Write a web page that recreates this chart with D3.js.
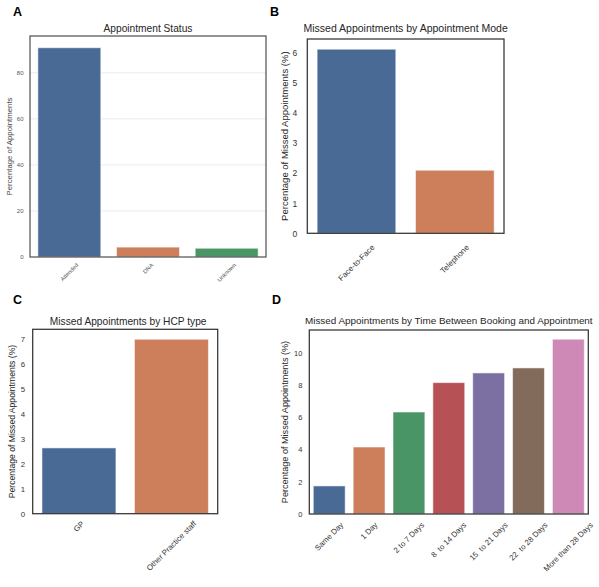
<!DOCTYPE html>
<html>
<head>
<meta charset="utf-8">
<script src="https://cdn.jsdelivr.net/npm/d3@7"></script>
<style>
  body { margin: 0; background: #fff; }
  svg text { font-family: "Liberation Sans", Arial, sans-serif; white-space: pre; }
</style>
</head>
<body>
<script>
// data
const statusCats = ["Attended", "DNA", "Unknown"];
const statusVals = [90.9, 4.3, 3.8];

const modeCats = ["Face-to-Face", "Telephone"];
const modeVals = [6.13, 2.1];

const hcpCats = ["GP", "Other Practice staff"];
const hcpVals = [2.64, 7.0];

const waitCats = ["Same Day", "1 Day", "2 to 7 Days", "8  to 14 Days", "15  to 21 Days", "22  to 28 Days", "More than 28 Days"];
const waitVals = [1.74, 4.15, 6.32, 8.14, 8.74, 9.05, 10.83];

const palette = ["#4a6a96", "#cd7f5c", "#4a9565", "#b65156", "#7b70a1", "#836b5c", "#cf89b7"];

const svg = d3.select("body").append("svg")
  .attr("width", 599)
  .attr("height", 587);

function panel(p) {
  const g = svg.append("g");

  const x = d3.scaleBand()
    .domain(p.cats)
    .range([p.left, p.right])
    .paddingInner(0.2)
    .paddingOuter(0.1);

  const y = d3.scaleLinear()
    .domain([0, p.ymax])
    .range([p.bottom, p.top]);

  if (p.grid) {
    g.selectAll(".grid")
      .data(p.ticks.filter(d => d > 0))
      .enter().append("line")
      .attr("x1", p.left).attr("x2", p.right)
      .attr("y1", d => y(d)).attr("y2", d => y(d))
      .attr("stroke", "#ebebeb")
      .attr("stroke-width", 1);
  }

  g.selectAll(".bar")
    .data(p.vals)
    .enter().append("rect")
    .attr("x", (d, i) => x(p.cats[i]))
    .attr("y", d => y(d))
    .attr("width", x.bandwidth())
    .attr("height", d => y(0) - y(d))
    .attr("fill", (d, i) => palette[i % palette.length])
    .attr("stroke", "rgba(255,255,255,0.55)")
    .attr("stroke-width", 1);

  const ax = g.append("g")
    .attr("transform", "translate(" + p.left + ",0)")
    .style("color", p.tickColor)
    .call(d3.axisLeft(y).tickValues(p.ticks).tickSize(0).tickPadding(p.tickPad).tickFormat(d3.format("d")));
  ax.select(".domain").remove();
  ax.selectAll("text")
    .style("font-size", p.tickFont + "px")
    .style("font-family", "'Liberation Sans', Arial, sans-serif")
    .style("fill", p.tickColor);

  // rotated category labels, centred on the bars like matplotlib rotation=45
  p.cats.forEach(c => {
    const t = g.append("text")
      .attr("text-anchor", "middle")
      .attr("dominant-baseline", "central")
      .style("font-size", p.xFont + "px")
      .style("fill", p.tickColor)
      .text(c);
    const w = t.node().getComputedTextLength();
    const half = (w + p.xFont) / (2 * Math.SQRT2);
    t.attr("transform", "translate(" + (x(c) + x.bandwidth() / 2) + "," + (p.bottom + p.xPad + half) + ") rotate(-45)");
  });

  g.append("rect")
    .attr("x", p.left).attr("y", p.top)
    .attr("width", p.right - p.left)
    .attr("height", p.bottom - p.top)
    .attr("fill", "none")
    .attr("stroke", p.frame)
    .attr("stroke-width", 1.25);

  g.append("text")
    .attr("x", (p.left + p.right) / 2 + p.titleShift)
    .attr("y", p.titleY)
    .attr("text-anchor", "middle")
    .style("font-size", p.titleFont + "px")
    .style("fill", "#262626")
    .text(p.title);

  g.append("text")
    .attr("transform", "translate(" + p.labelX + "," + ((p.top + p.bottom) / 2) + ") rotate(-90)")
    .attr("text-anchor", "middle")
    .attr("dominant-baseline", "central")
    .style("font-size", p.labelFont + "px")
    .style("fill", p.labelColor)
    .text(p.ylabel);

  svg.append("text")
    .attr("x", p.letterX)
    .attr("y", p.letterY)
    .style("font-size", "12.5px")
    .style("font-weight", "bold")
    .style("fill", "#000")
    .text(p.letter);
}

panel({
  letter: "A", letterX: 13, letterY: 16,
  cats: statusCats, vals: statusVals,
  left: 30, right: 266, top: 36, bottom: 257, ymax: 96,
  ticks: [0, 20, 40, 60, 80], tickPad: 6.5, tickFont: 6, tickColor: "#555",
  xFont: 5.7, xPad: 5, grid: true, frame: "#555",
  title: "Appointment Status", titleFont: 10.2, titleY: 31.5, titleShift: 0,
  ylabel: "Percentage of Appointments", labelFont: 7.8, labelX: 9.5, labelColor: "#444"
});

panel({
  letter: "B", letterX: 270, letterY: 16,
  cats: modeCats, vals: modeVals,
  left: 307.3, right: 504, top: 39, bottom: 233.3, ymax: 6.47,
  ticks: [0, 1, 2, 3, 4, 5, 6], tickPad: 10, tickFont: 8.5, tickColor: "#333",
  xFont: 8, xPad: 10, grid: false, frame: "#333",
  title: "Missed Appointments by Appointment Mode", titleFont: 10.5, titleY: 32, titleShift: 0,
  ylabel: "Percentage of Missed Appointments (%)", labelFont: 9.5, labelX: 284.7, labelColor: "#262626"
});

panel({
  letter: "C", letterX: 13, letterY: 304,
  cats: hcpCats, vals: hcpVals,
  left: 32.7, right: 217.7, top: 329.3, bottom: 513.7, ymax: 7.4,
  ticks: [0, 1, 2, 3, 4, 5, 6, 7], tickPad: 7.7, tickFont: 7.8, tickColor: "#333",
  xFont: 7.8, xPad: 6, grid: false, frame: "#333",
  title: "Missed Appointments by HCP type", titleFont: 10.2, titleY: 324.5, titleShift: 3,
  ylabel: "Percentage of Missed Appointments (%)", labelFont: 8.6, labelX: 11.5, labelColor: "#262626"
});

panel({
  letter: "D", letterX: 272, letterY: 304,
  cats: waitCats, vals: waitVals,
  left: 309.3, right: 588.3, top: 330, bottom: 514, ymax: 11.4,
  ticks: [0, 2, 4, 6, 8, 10], tickPad: 7, tickFont: 7.5, tickColor: "#333",
  xFont: 7.8, xPad: 7, grid: false, frame: "#333",
  title: "Missed Appointments by Time Between Booking and Appointment", titleFont: 9.9, titleY: 323.5, titleShift: 0,
  ylabel: "Percentage of Missed Appointments (%)", labelFont: 9.1, labelX: 284.5, labelColor: "#262626"
});
</script>
</body>
</html>
